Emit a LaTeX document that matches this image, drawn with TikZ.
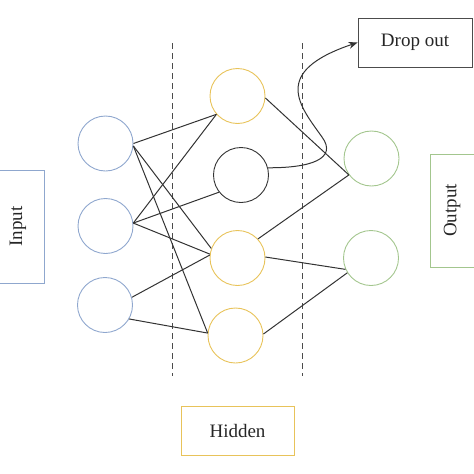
\documentclass[tikz,border=0pt]{standalone}
\usepackage{fontspec}
\setmainfont{Liberation Serif}
\usetikzlibrary{arrows.meta}
\definecolor{inblue}{HTML}{8FA7CE}
\definecolor{hidgold}{HTML}{E8C35A}
\definecolor{outgreen}{HTML}{A3C68E}
\definecolor{linkgray}{HTML}{333333}

\begin{document}
\begin{tikzpicture}
		[x=1pt,y=-1pt,
		n/.style= {circle,minimum size=55pt,inner sep=0pt,line width=0.9pt},
		lab/.style= {draw,font=\fontsize{19}{23}\selectfont,inner sep=0pt,line width=0.9pt,text=black!85},
		w/.style= {draw=linkgray,line width=1pt},
		sep/.style= {draw=black!70,dash pattern=on 6pt off 4pt,line width=0.9pt}]

		\useasboundingbox (0,0) rectangle (474,474);

		% layer separators
		\coordinate (s1a) at (172,43);
		\coordinate (s1b) at (172,376);
		\coordinate (s2a) at (302,43);
		\coordinate (s2b) at (302,376);
		\draw[sep] (s1a) -- (s1b);
		\draw[sep] (s2a) -- (s2b);

		% labels
		\node[lab,draw=inblue,rotate=90,minimum width=113pt,minimum height=52pt] (inp) at (18,226.5) {Input};
		\node[lab,draw=outgreen,rotate=90,minimum width=113pt,minimum height=44pt] (outp) at (452,210.5) {Output};
		\node[lab,draw=hidgold,minimum width=113pt,minimum height=49pt] (hid) at (237.5,430.5) {Hidden};
		\node[lab,draw=black!70,minimum width=114pt,minimum height=49pt] (drop) at (415,42.5) {Drop out};

		% input layer
		\node[n,draw=inblue] (i1) at (105.5,143.5) {};
		\node[n,draw=inblue] (i2) at (105.5,226) {};
		\node[n,draw=inblue] (i3) at (105,305) {};

		% hidden layer
		\node[n,draw=hidgold] (h1) at (237.5,96) {};
		\node[n,draw=black!80] (h2) at (241,175) {};
		\node[n,draw=hidgold] (h3) at (237.5,258) {};
		\node[n,draw=hidgold] (h4) at (235.5,335.5) {};

		% output layer
		\node[n,draw=outgreen] (o1) at (371.5,158.5) {};
		\node[n,draw=outgreen] (o2) at (371,258) {};

		\draw[w] (i1.0) -- (h1.221);
		\draw[w] (i1.355) -- (h3.160);
		\draw[w] (i1.355) -- (h4.175);
		\draw[w] (i2.6) -- (h1.221);
		\draw[w] (i2.6) -- (h2.218);
		\draw[w] (i2.6) -- (h3.172);
		\draw[w] (i3.16) -- (h3.174);
		\draw[w] (i3.330) -- (h4.175);

		\draw[w] (h1.356) -- (o1.216);
		\draw[w] (h3.43) -- (o1.216);
		\draw[w] (h3.2) -- (o2.204);
		\draw[w] (h4.3) -- (o2.212);

		% dropped unit
		\draw[w,-{Stealth[length=9pt,width=7pt]}] (h2.15)
			.. controls (310,168) and (338,159) .. (322,137)
			.. controls (300,106) and (270,72) .. (drop.west);

	\end{tikzpicture}
\end{document}
